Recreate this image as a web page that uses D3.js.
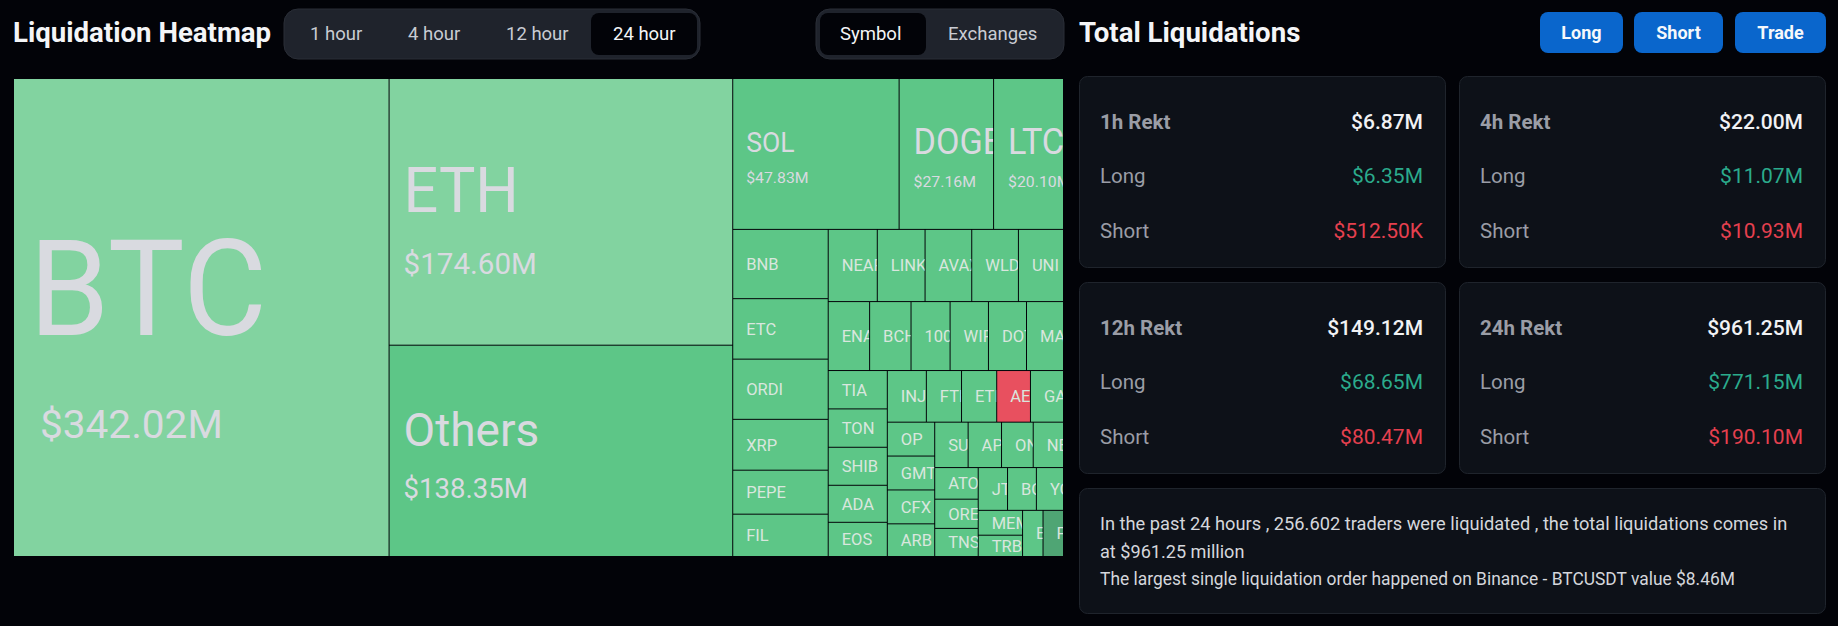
<!DOCTYPE html>
<html>
<head>
<meta charset="utf-8">
<script src="https://cdn.jsdelivr.net/npm/d3@7"></script>
<style>
  html, body { margin: 0; padding: 0; background: #020308; overflow: hidden; }
  text { font-family: Roboto, sans-serif; }
</style>
</head>
<body>
<div id="chart"></div>
<script>
// treemap data, in the order the cells are laid out ($M)
var symbols = ["BTC", "ETH", "Others", "SOL", "DOGE", "LTC",
  "BNB", "ETC", "ORDI", "XRP", "PEPE", "FIL",
  "NEAR", "LINK", "AVAX", "WLD", "UNI",
  "ENA", "BCH", "1000SATS", "WIF", "DOT", "MATIC",
  "TIA", "TON", "SHIB", "ADA", "EOS",
  "INJ", "FTM", "ETHFI", "AEVO", "GALA",
  "OP", "GMT", "CFX", "ARB",
  "SUI", "APT", "ONDO", "NEO",
  "ATOM", "ORE", "TNSR",
  "JTO", "BOME", "YGG",
  "MEME", "TRB", "ENS", "FET"]
var liquidated = [342.02, 174.60, 138.35, 47.83, 27.16, 20.10,
  12.60, 11.00, 10.95, 9.25, 8.00, 7.70,
  6.75, 6.57, 6.42, 6.42, 6.20,
  5.44, 5.44, 5.13, 5.04, 5.00, 4.86,
  4.32, 4.32, 4.28, 4.17, 3.85,
  3.84, 3.46, 3.46, 3.32, 3.25,
  3.06, 3.06, 3.06, 2.95,
  2.89, 2.89, 2.74, 2.62,
  2.62, 2.42, 2.33,
  2.39, 2.35, 2.21,
  2.10, 1.80, 1.80, 1.80]
// long share bucket of each cell: 3 mostly long, 0 mostly short
var longBucket = [3, 3, 2, 2, 2, 2,
  2, 2, 2, 2, 2, 2,
  2, 2, 2, 2, 2,
  2, 2, 2, 2, 2, 2,
  2, 2, 2, 2, 2,
  2, 2, 2, 0, 2,
  2, 2, 2, 2,
  2, 2, 2, 2,
  2, 2, 2,
  2, 2, 2,
  2, 2, 2, 1]

var hourTabs = ["1 hour", "4 hour", "12 hour", "24 hour"]
var viewTabs = ["Symbol", "Exchanges"]
var actionButtons = ["Long", "Short", "Trade"]

var rektTitles = ["1h Rekt", "4h Rekt", "12h Rekt", "24h Rekt"]
var rektTotals = ["$6.87M", "$22.00M", "$149.12M", "$961.25M"]
var rektLongs = ["$6.35M", "$11.07M", "$68.65M", "$771.15M"]
var rektShorts = ["$512.50K", "$10.93M", "$80.47M", "$190.10M"]

var summaryLines = [
  "In the past 24 hours , 256.602 traders were liquidated , the total liquidations comes in",
  "at $961.25 million",
  "The largest single liquidation order happened on Binance - BTCUSDT value $8.46M"
]

var svg = d3.select("#chart").append("svg")
  .attr("width", 1838)
  .attr("height", 626)
  .style("display", "block")

function label(parent, str, x, y, size, color, opts) {
  opts = opts || {}
  return parent.append("text")
    .attr("transform", "translate(" + x + "," + y + ") scale(" + (opts.squeeze || 1) + ",1)")
    .attr("text-anchor", opts.anchor || "start")
    .attr("font-size", size)
    .attr("font-weight", opts.weight || 400)
    .attr("fill", color)
    .text(str)
}

// cells cut their labels off, drop the letters that would fall wholly outside
function fitToCell(text, room) {
  var str = text.text()
  while(str.length > 1 && text.node().getSubStringLength(0, str.length - 1) >= room) {
    str = str.slice(0, -1)
    text.text(str)
  }
}

// ---- heatmap header
label(svg, "Liquidation Heatmap", 13, 42, 27.6, "#f4f5f7", {weight: 700})

function tabs(names, bx, bw, starts, activeIndex, ax, aw) {
  svg.append("rect").attr("x", bx).attr("y", 9).attr("width", bw).attr("height", 50)
    .attr("rx", 14).attr("fill", "#1f232c").attr("stroke", "#2a2e37")
  svg.append("rect").attr("x", ax).attr("y", 13).attr("width", aw).attr("height", 42)
    .attr("rx", 8).attr("fill", "#020308")
  names.forEach(function(n, i) {
    label(svg, n, starts[i], 40, 18.5, i === activeIndex ? "#f4f5f7" : "#c9ccd3")
  })
}
tabs(hourTabs, 284, 416, [310, 408, 506, 613], 3, 591, 106)
tabs(viewTabs, 816, 248, [840, 948], 0, 820, 106)

// ---- treemap
var tileColor = d3.scaleOrdinal().domain([3, 2, 1, 0])
  .range(["#82d3a0", "#5dc687", "#4fa574", "#e8505f"])

var leaves = symbols.map(function(name, i) {
  return {name: name, value: liquidated[i], bucket: longBucket[i]}
})
var root = d3.hierarchy({children: leaves}).sum(function(d) { return d.value })

d3.treemap()
  .size([1049, 477])
  .paddingInner(1)(root)

var map = svg.append("g").attr("transform", "translate(14,79)")

// labels of the large cells, relative to the cell's corner
var bigLabels = {
  BTC: {dx: 15, nameY: 256, nameSize: 133, squeeze: 0.97, valueDx: 26, valueY: 359, valueSize: 39, valueSqueeze: 1.04},
  ETH: {dx: 14, nameY: 133, nameSize: 63, squeeze: 0.97, valueDx: 14, valueY: 195, valueSize: 29},
  Others: {dx: 14, nameY: 100, nameSize: 46, squeeze: 1.0, valueDx: 14, valueY: 152, valueSize: 27},
  SOL: {dx: 13, nameY: 73, nameSize: 28, squeeze: 0.95, valueDx: 13, valueY: 104, valueSize: 15.5},
  DOGE: {dx: 14, nameY: 75, nameSize: 36, squeeze: 0.95, valueDx: 14, valueY: 108, valueSize: 15.5},
  LTC: {dx: 14, nameY: 75, nameSize: 36, squeeze: 0.95, valueDx: 14, valueY: 108, valueSize: 15.5}
}

var cell = map.selectAll("g.cell").data(root.leaves()).enter().append("g")
  .attr("class", "cell")
  .attr("transform", function(d) { return "translate(" + d.x0 + "," + d.y0 + ")" })

cell.append("clipPath")
  .attr("id", function(d, i) { return "clip" + i })
  .append("rect")
  .attr("width", function(d) { return d.x1 - d.x0 })
  .attr("height", function(d) { return d.y1 - d.y0 })

cell.append("rect")
  .attr("width", function(d) { return d.x1 - d.x0 })
  .attr("height", function(d) { return d.y1 - d.y0 })
  .attr("fill", function(d) { return tileColor(d.data.bucket) })

cell.each(function(d, i) {
  var g = d3.select(this).append("g").attr("clip-path", "url(#clip" + i + ")")
    , big = bigLabels[d.data.name]
    , w = d.x1 - d.x0
  if(big) {
    label(g, d.data.name, big.dx, big.nameY, big.nameSize, "#d9dae0", {squeeze: big.squeeze})
    label(g, "$" + d.data.value.toFixed(2) + "M", big.valueDx, big.valueY, big.valueSize, "#d9dae0", {squeeze: big.valueSqueeze || 1.02})
  } else {
    var cy = (d.y1 - d.y0) / 2
    fitToCell(label(g, d.data.name, 13, cy + 6, 16.5, "#d9e6de"), w - 13)
  }
})

// ---- right panel
label(svg, "Total Liquidations", 1079, 42, 27.6, "#f4f5f7", {weight: 700})

var buttonX = [1540, 1634, 1735]
  , buttonW = [83, 89, 91]
actionButtons.forEach(function(b, i) {
  svg.append("rect").attr("x", buttonX[i]).attr("y", 12).attr("width", buttonW[i]).attr("height", 41)
    .attr("rx", 8).attr("fill", "#0a66cc")
  label(svg, b, buttonX[i] + buttonW[i] / 2, 38.5, 18, "#f6f8fb", {weight: 700, anchor: "middle"})
})

function card(x, y, w, h) {
  svg.append("rect").attr("x", x + 0.5).attr("y", y + 0.5).attr("width", w).attr("height", h)
    .attr("rx", 8).attr("fill", "#0d1118").attr("stroke", "#1f242c")
}

var cardX = d3.scaleOrdinal().domain([0, 1]).range([1079, 1459])
  , cardY = d3.scaleOrdinal().domain([0, 1]).range([76, 282])

rektTitles.forEach(function(title, i) {
  var x = cardX(i % 2)
    , y = cardY(Math.floor(i / 2))
    , right = x + 344
  card(x, y, 366, 191)
  label(svg, title, x + 21, y + 53, 20.5, "#9a9da6", {weight: 700})
  label(svg, rektTotals[i], right, y + 53, 21, "#f1f2f4", {weight: 500, anchor: "end"})
  label(svg, "Long", x + 21, y + 107, 20.5, "#9a9da6")
  label(svg, rektLongs[i], right, y + 107, 21, "#2bab8c", {anchor: "end"})
  label(svg, "Short", x + 21, y + 162, 20.5, "#9a9da6")
  label(svg, rektShorts[i], right, y + 162, 21, "#e5404f", {anchor: "end"})
})

card(1079, 488, 746, 125)
var lineSqueeze = [0.993, 0.985, 0.946]
summaryLines.forEach(function(line, i) {
  label(svg, line, 1100, 530 + i * 27.5, 18.4, "#d5d7dc", {squeeze: lineSqueeze[i]})
})
</script>
</body>
</html>
